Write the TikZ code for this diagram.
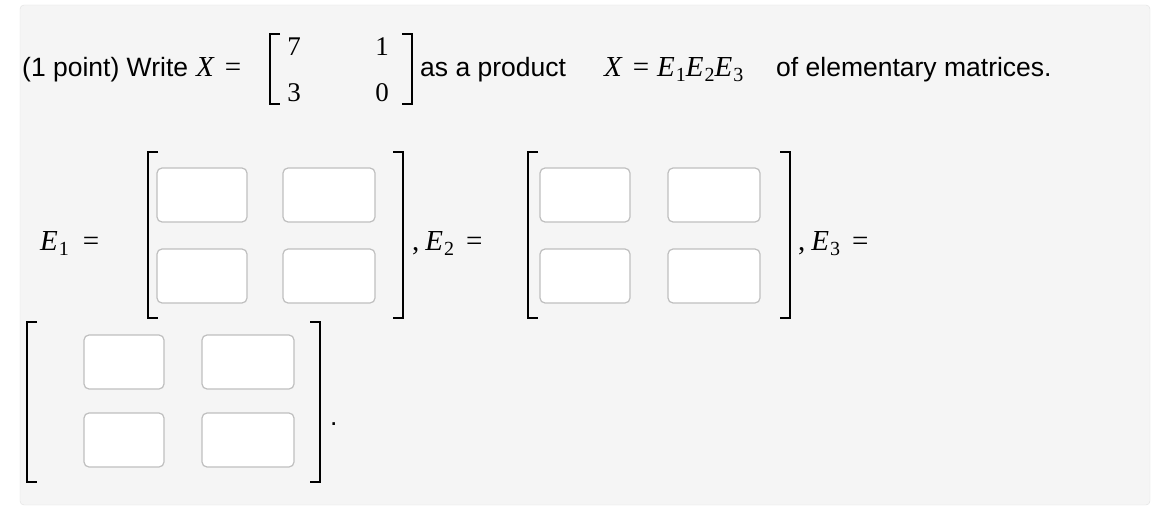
\documentclass[tikz,border=0pt]{standalone}
\usepackage{fontspec}
\setmainfont{Liberation Sans}
\newfontfamily\serifm{Liberation Serif}
\tikzset{
 ibox/.style={draw=black!25,line width=1.2pt,rounded corners=5pt,fill=white},
 brk/.style={line width=1.6pt},
 txt/.style={anchor=base west,inner sep=0pt,font=\fontsize{26.5}{30}\selectfont},
 mth/.style={anchor=base west,inner sep=0pt,font=\serifm\fontsize{29}{32}\selectfont},
 num/.style={anchor=base,inner sep=0pt,font=\serifm\fontsize{27}{30}\selectfont}
}
\newcommand{\bigbr}[4]{%
 \draw[brk] (#1+10,#3)--(#1,#3)--(#1,#4)--(#1+10,#4);
 \draw[brk] (#2-10,#3)--(#2,#3)--(#2,#4)--(#2-10,#4);}
\newcommand{\Ei}[1]{\textit{E}\kern1pt\raisebox{-5pt}{\fontsize{20}{22}\selectfont #1}}
\begin{document}
\begin{tikzpicture}[x=1pt,y=-1pt]
\useasboundingbox (0,0) rectangle (1154,508);
\draw[fill=black!4,draw=black!12,rounded corners=4pt] (20,5) rectangle (1150,505);
\node[txt] (t1) at (22,77) {(1 point) Write};
\node[mth] (x1) at (196,77) {\textit{X}\hspace{10pt}=};
\bigbr{270}{412}{34}{104}
\node[num] (a11) at (294,56) {7};
\node[num] (a12) at (382,56) {1};
\node[num] (a21) at (294,102) {3};
\node[num] (a22) at (382,102) {0};
\node[txt] (t2) at (420,77) {as a product};
\node[mth] (x2) at (604,77) {\textit{X}\hspace{10pt}=\hspace{8pt}\Ei1\Ei2\Ei3};
\node[txt] (t3) at (776,77) {of elementary matrices.};
% E1
\node[mth] (e1) at (40,250) {\Ei1\hspace{14pt}=};
\bigbr{148}{403}{152}{318}
\node[ibox,minimum width=90pt,minimum height=54pt] (b1) at (202,195) {};
\node[ibox,minimum width=92pt,minimum height=54pt] (b2) at (329,195) {};
\node[ibox,minimum width=90pt,minimum height=54pt] (b3) at (202,276) {};
\node[ibox,minimum width=92pt,minimum height=54pt] (b4) at (329,276) {};
\node[mth] (e2) at (412,250) {,\hspace{6pt}\Ei2\hspace{12pt}=};
\bigbr{528}{790}{152}{318}
\node[ibox,minimum width=90pt,minimum height=54pt] (c1) at (585,195) {};
\node[ibox,minimum width=92pt,minimum height=54pt] (c2) at (714,195) {};
\node[ibox,minimum width=90pt,minimum height=54pt] (c3) at (585,276) {};
\node[ibox,minimum width=92pt,minimum height=54pt] (c4) at (714,276) {};
\node[mth] (e3) at (798,250) {,\hspace{6pt}\Ei3\hspace{12pt}=};
\bigbr{27}{320}{322}{482}
\node[ibox,minimum width=80pt,minimum height=54pt] (d1) at (124,362) {};
\node[ibox,minimum width=92pt,minimum height=54pt] (d2) at (248,362) {};
\node[ibox,minimum width=80pt,minimum height=54pt] (d3) at (124,440) {};
\node[ibox,minimum width=92pt,minimum height=54pt] (d4) at (248,440) {};
\node[txt] (dot) at (330,425) {.};
\end{tikzpicture}
\end{document}
